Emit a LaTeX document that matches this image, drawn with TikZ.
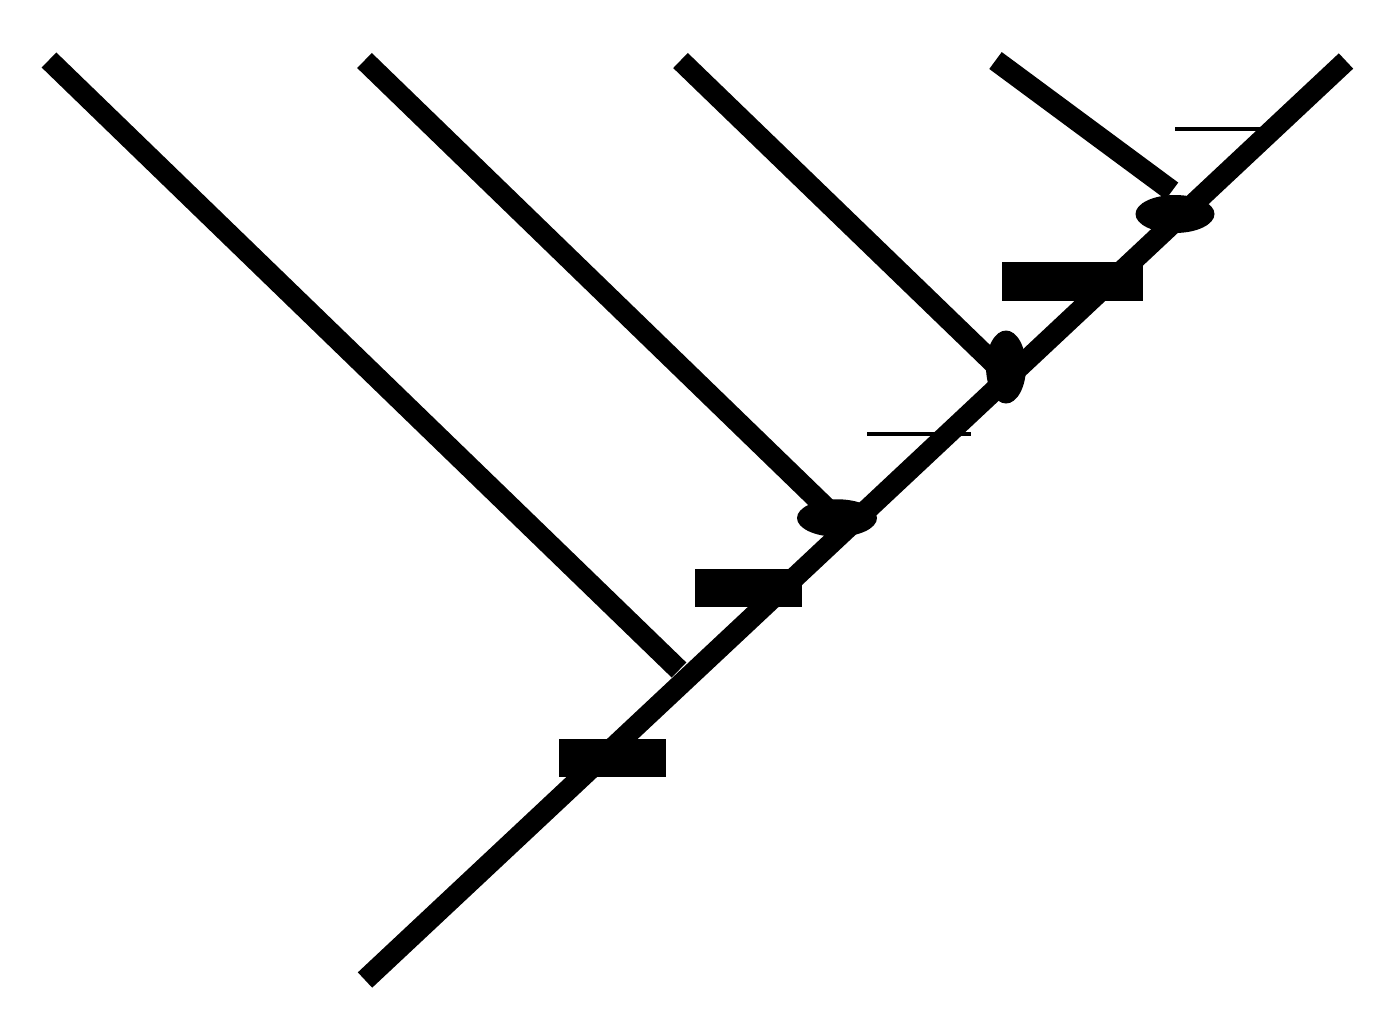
\documentclass[tikz,border=0pt]{standalone}
\usepackage{tikz}
\usetikzlibrary{shapes.geometric,positioning,calc}

\begin{document}
\begin{tikzpicture}[
        x=0.02cm, y=-0.02cm,
        % Block styles
        branch/.style={line width=0.42cm, line cap=butt},
        trunk/.style={line width=0.42cm, line cap=butt},
        bar/.style={
            rectangle,
            fill=black,
            inner sep=0pt,
            minimum height=0.77cm,
            minimum width=2.14cm
        },
        joint/.style={
            ellipse,
            fill=black,
            inner sep=0pt,
            minimum width=1.6cm,
            minimum height=0.75cm
        },
        tick/.style={line width=0.08cm}
    ]
    \useasboundingbox (0,0) rectangle (1387,1019);

    % Root and tips
    \coordinate (root) at (365,980);
    \coordinate (top) at (1346,61);
    \coordinate (tipA) at (49,60);
    \coordinate (tipB) at (364.5,60.5);
    \coordinate (tipC) at (680.5,60.5);
    \coordinate (tipD) at (995.5,60.5);

    % Junctions on the trunk
    \coordinate (jA) at (679,670);
    \coordinate (jB) at (846,527);
    \coordinate (jC) at (1006,375);
    \coordinate (jD) at (1172,191);

    % Branches
    \draw[branch] (tipA) -- (jA);
    \draw[branch] (tipB) -- (jB);
    \draw[branch] (tipC) -- (jC);
    \draw[branch] (tipD) -- (jD);
    \draw[trunk] (root) -- (top);

    % Character bars
    \node[bar] (barA) at (612.5,758) {};
    \node[bar] (barB) at (748.5,588) {};
    \node[bar, minimum width=2.82cm] (barC) at (1072.5,281.5) {};

    % Ellipses at the nodes
    \node[joint] (eB) at (837,518) {};
    \node[joint, minimum width=0.8cm, minimum height=1.46cm] (eC) at (1006,367) {};
    \node[joint, minimum width=1.58cm, minimum height=0.76cm] (eD) at (1175,214) {};

    % Thin marks
    \coordinate (tickB1) at (867,434);
    \coordinate (tickB2) at (971,434);
    \coordinate (tickD1) at (1175,129);
    \coordinate (tickD2) at (1262,129);
    \draw[tick] (tickB1) -- (tickB2);
    \draw[tick] (tickD1) -- (tickD2);

\end{tikzpicture}
\end{document}
